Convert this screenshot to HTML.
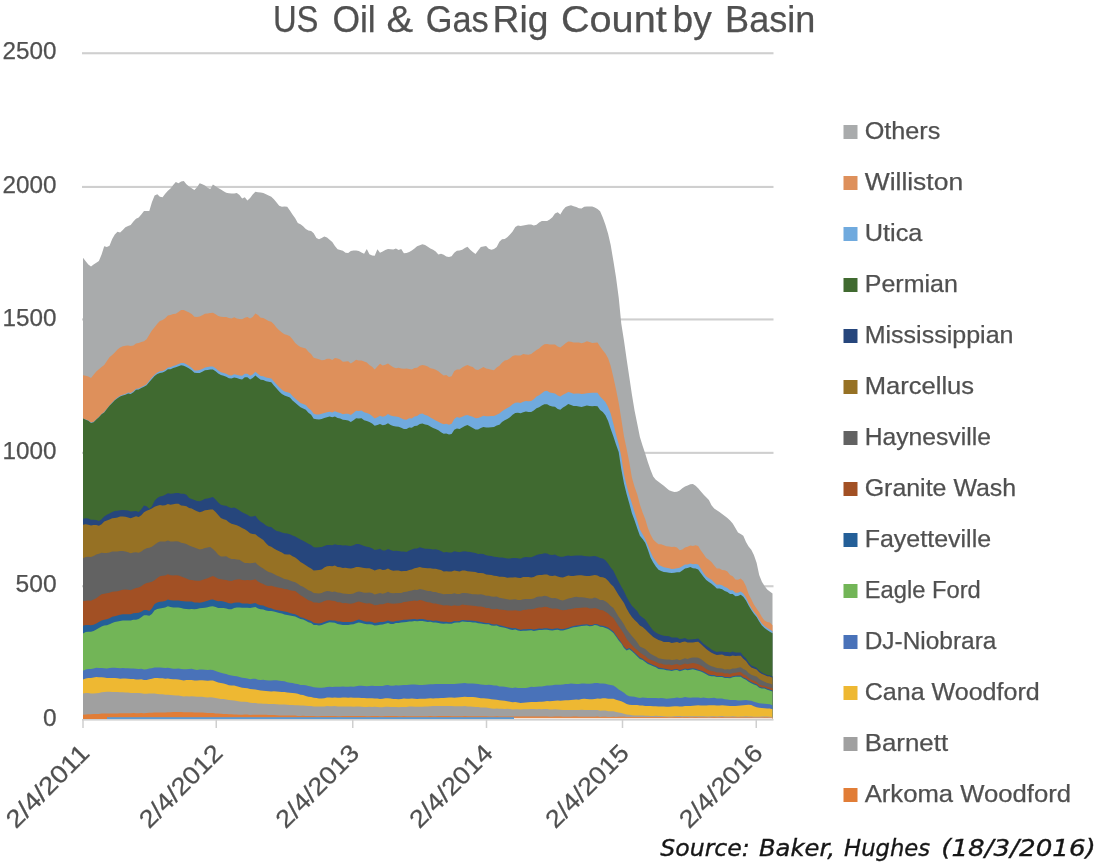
<!DOCTYPE html>
<html lang="en"><head><meta charset="utf-8"><title>US Oil &amp; Gas Rig Count by Basin</title>
<style>html,body{margin:0;padding:0;background:#fff}body{width:1096px;height:865px;overflow:hidden}svg{display:block}text{font-family:'Liberation Sans', Arial, sans-serif;fill:#505050;stroke:#505050;stroke-width:0.25px}.ax{font-size:24.8px}.src{font-family:"DejaVu Sans","Liberation Sans",sans-serif;font-style:italic;font-size:23.8px;fill:#161616;stroke:#161616;stroke-width:0.35px}</style></head><body>
<svg width="1096" height="865" viewBox="0 0 1096 865">
<rect width="1096" height="865" fill="#ffffff"/>
<text y="32" font-size="37"><tspan x="272.88" textLength="45.58" lengthAdjust="spacingAndGlyphs">US</tspan> <tspan x="332.40" textLength="43.34" lengthAdjust="spacingAndGlyphs">Oil</tspan> <tspan x="386.54" textLength="26.64" lengthAdjust="spacingAndGlyphs">&amp;</tspan> <tspan x="425.78" textLength="62.94" lengthAdjust="spacingAndGlyphs">Gas</tspan> <tspan x="492.50" textLength="55.86" lengthAdjust="spacingAndGlyphs">Rig</tspan> <tspan x="560.90" textLength="105.90" lengthAdjust="spacingAndGlyphs">Count</tspan> <tspan x="672.50" textLength="39.18" lengthAdjust="spacingAndGlyphs">by</tspan> <tspan x="725.12" textLength="90.24" lengthAdjust="spacingAndGlyphs">Basin</tspan></text>
<rect x="82" y="52.2" width="691.5" height="2.1" fill="#CFCFCF"/>
<rect x="82" y="185.9" width="691.5" height="2.1" fill="#CFCFCF"/>
<rect x="82" y="318.4" width="691.5" height="2.1" fill="#CFCFCF"/>
<rect x="82" y="451.8" width="691.5" height="2.1" fill="#CFCFCF"/>
<rect x="82" y="585.2" width="691.5" height="2.1" fill="#CFCFCF"/>
<text class="ax" x="56.6" y="59.3" text-anchor="end" textLength="54.0" lengthAdjust="spacingAndGlyphs">2500</text>
<text class="ax" x="56.6" y="193.0" text-anchor="end" textLength="54.0" lengthAdjust="spacingAndGlyphs">2000</text>
<text class="ax" x="56.6" y="325.5" text-anchor="end" textLength="54.0" lengthAdjust="spacingAndGlyphs">1500</text>
<text class="ax" x="56.6" y="458.8" text-anchor="end" textLength="54.0" lengthAdjust="spacingAndGlyphs">1000</text>
<text class="ax" x="56.6" y="592.3" text-anchor="end" textLength="41.0" lengthAdjust="spacingAndGlyphs">500</text>
<text class="ax" x="56.6" y="725.6" text-anchor="end" textLength="13.6" lengthAdjust="spacingAndGlyphs">0</text>
<g shape-rendering="geometricPrecision">
<path d="M83.0,719.5L83.0,257.8L85.7,261.2L88.3,264.6L91.0,266.5L93.6,264.6L96.3,262.8L98.9,260.9L101.6,254.6L104.2,246.3L106.9,247.1L109.5,245.8L112.2,239.1L114.8,234.4L117.5,231.8L120.1,232.4L122.8,230.1L125.4,227.2L128.1,226.1L130.7,225.0L133.4,221.5L136.0,218.7L138.7,217.6L141.3,214.5L144.0,210.9L146.6,210.9L149.3,210.9L151.9,202.2L154.6,195.6L157.3,194.2L159.9,196.7L162.6,197.3L165.2,193.8L167.9,190.8L170.5,188.6L173.2,184.9L175.8,182.0L178.5,183.2L181.1,181.5L183.8,181.1L186.4,184.3L189.1,186.5L191.7,188.2L194.4,189.9L197.0,187.2L199.7,183.2L202.3,184.3L205.0,185.4L207.6,187.7L210.3,189.1L212.9,184.6L215.6,186.3L218.2,188.0L220.9,189.6L223.6,191.2L226.2,192.8L228.9,193.3L231.5,193.6L234.2,193.4L236.8,193.1L239.5,195.0L242.1,198.5L244.8,197.3L247.4,200.4L250.1,198.0L252.7,194.4L255.4,191.8L258.0,192.2L260.7,192.6L263.3,192.9L266.0,194.2L268.6,195.5L271.3,196.8L273.9,199.2L276.6,202.4L279.2,205.7L281.9,206.8L284.5,206.5L287.2,206.7L289.9,210.6L292.5,214.5L295.2,218.3L297.8,223.1L300.5,224.2L303.1,226.2L305.8,228.9L308.4,230.5L311.1,230.9L313.7,233.2L316.4,237.9L319.0,239.3L321.7,238.0L324.3,236.6L327.0,237.6L329.6,239.8L332.3,241.9L334.9,246.1L337.6,249.2L340.2,250.0L342.9,250.7L345.5,252.7L348.2,253.1L350.8,251.0L353.5,250.6L356.1,250.6L358.8,251.1L361.5,252.4L364.1,253.8L366.8,249.0L369.4,254.2L372.1,255.5L374.7,255.8L377.4,249.2L380.0,252.7L382.7,251.4L385.3,250.0L388.0,249.1L390.6,249.3L393.3,249.6L395.9,248.5L398.6,249.9L401.2,249.0L403.9,253.3L406.5,253.1L409.2,251.9L411.8,250.6L414.5,248.4L417.1,246.3L419.8,245.2L422.4,244.3L425.1,244.9L427.8,246.8L430.4,248.5L433.1,249.8L435.7,251.4L438.4,254.5L441.0,253.7L443.7,254.7L446.3,256.5L449.0,257.0L451.6,256.2L454.3,252.8L456.9,250.8L459.6,250.4L462.2,249.7L464.9,248.0L467.5,246.7L470.2,249.8L472.8,252.1L475.5,254.0L478.1,250.6L480.8,247.0L483.4,246.4L486.1,246.1L488.7,248.7L491.4,249.8L494.0,248.9L496.7,246.9L499.4,241.7L502.0,239.3L504.7,239.1L507.3,237.2L510.0,234.5L512.6,231.4L515.3,227.1L517.9,225.5L520.6,225.9L523.2,225.5L525.9,224.9L528.5,224.4L531.2,224.6L533.8,225.6L536.5,224.7L539.1,222.6L541.8,220.9L544.4,221.0L547.1,221.1L549.7,219.5L552.4,217.3L555.0,213.5L557.7,212.2L560.3,214.6L563.0,210.1L565.6,206.9L568.3,205.9L571.0,205.3L573.6,206.2L576.3,207.0L578.9,208.3L581.6,208.6L584.2,206.8L586.9,206.6L589.5,206.6L592.2,206.6L594.8,207.4L597.5,209.0L600.1,211.2L602.8,217.5L605.4,224.7L608.1,233.8L610.7,245.1L613.4,261.1L616.0,277.2L618.7,297.5L621.3,323.8L624.0,340.7L626.6,359.1L629.3,376.9L631.9,394.6L634.6,410.7L637.3,423.9L639.9,437.1L642.6,445.8L645.2,453.4L647.9,462.3L650.5,469.7L653.2,476.4L655.8,479.7L658.5,481.7L661.1,483.7L663.8,485.8L666.4,488.1L669.1,490.3L671.7,491.3L674.4,491.9L677.0,491.7L679.7,490.4L682.3,488.3L685.0,486.5L687.6,485.4L690.3,484.3L692.9,484.0L695.6,485.8L698.2,488.2L700.9,491.5L703.5,494.5L706.2,497.2L708.9,499.9L711.5,505.3L714.2,508.5L716.8,510.3L719.5,512.0L722.1,513.9L724.8,515.9L727.4,517.9L730.1,520.6L732.7,523.6L735.4,528.0L738.0,532.4L740.7,534.0L743.3,535.7L746.0,541.9L748.6,546.4L751.3,549.8L753.9,555.1L756.6,562.7L759.2,575.0L761.9,581.7L764.5,586.1L767.2,589.4L769.8,591.5L772.5,593.5L772.5,719.5Z" fill="#A9ABAC"/>
<path d="M83.0,719.5L83.0,375.2L85.7,375.7L88.3,376.5L91.0,378.1L93.6,374.8L96.3,371.4L98.9,369.2L101.6,367.1L104.2,364.9L106.9,361.0L109.5,357.3L112.2,354.9L114.8,352.4L117.5,349.5L120.1,347.6L122.8,346.3L125.4,345.7L128.1,345.5L130.7,346.1L133.4,345.4L136.0,343.5L138.7,343.0L141.3,342.1L144.0,341.3L146.6,339.3L149.3,334.8L151.9,330.4L154.6,327.2L157.3,323.8L159.9,320.9L162.6,320.0L165.2,318.2L167.9,315.5L170.5,315.1L173.2,314.0L175.8,313.8L178.5,311.9L181.1,310.0L183.8,309.9L186.4,311.3L189.1,312.6L191.7,313.9L194.4,316.7L197.0,317.0L199.7,316.5L202.3,315.3L205.0,313.8L207.6,313.4L210.3,313.0L212.9,312.8L215.6,314.2L218.2,315.9L220.9,316.8L223.6,317.0L226.2,317.1L228.9,318.1L231.5,318.4L234.2,317.3L236.8,318.6L239.5,319.0L242.1,319.3L244.8,317.8L247.4,317.1L250.1,318.6L252.7,316.9L255.4,313.5L258.0,314.9L260.7,317.8L263.3,317.9L266.0,319.5L268.6,321.1L271.3,321.8L273.9,324.3L276.6,327.7L279.2,330.2L281.9,332.4L284.5,334.3L287.2,335.1L289.9,336.2L292.5,339.2L295.2,343.1L297.8,345.2L300.5,347.0L303.1,347.8L305.8,348.4L308.4,351.8L311.1,354.0L313.7,357.7L316.4,358.5L319.0,359.3L321.7,360.2L324.3,359.9L327.0,358.7L329.6,358.7L332.3,359.9L334.9,358.1L337.6,358.5L340.2,359.5L342.9,361.8L345.5,361.4L348.2,361.3L350.8,363.6L353.5,361.8L356.1,359.7L358.8,360.4L361.5,360.4L364.1,361.6L366.8,362.5L369.4,364.9L372.1,366.8L374.7,369.4L377.4,366.4L380.0,363.8L382.7,365.6L385.3,364.7L388.0,363.4L390.6,365.6L393.3,367.2L395.9,368.3L398.6,367.8L401.2,368.4L403.9,368.8L406.5,368.6L409.2,369.1L411.8,369.5L414.5,367.9L417.1,367.8L419.8,365.7L422.4,364.9L425.1,365.6L427.8,366.5L430.4,368.2L433.1,368.8L435.7,369.7L438.4,371.2L441.0,373.6L443.7,375.4L446.3,375.0L449.0,377.0L451.6,376.2L454.3,371.0L456.9,369.4L459.6,369.6L462.2,367.6L464.9,366.0L467.5,365.1L470.2,366.2L472.8,367.1L475.5,369.6L478.1,370.0L480.8,368.4L483.4,367.0L486.1,368.4L488.7,369.0L491.4,369.8L494.0,370.3L496.7,367.5L499.4,365.7L502.0,362.7L504.7,360.4L507.3,360.0L510.0,358.3L512.6,356.1L515.3,355.2L517.9,355.4L520.6,355.6L523.2,354.1L525.9,354.5L528.5,354.8L531.2,354.0L533.8,352.0L536.5,350.1L539.1,348.4L541.8,346.0L544.4,344.3L547.1,343.9L549.7,344.4L552.4,344.5L555.0,344.5L557.7,346.6L560.3,347.4L563.0,345.5L565.6,343.3L568.3,341.4L571.0,341.7L573.6,342.4L576.3,342.5L578.9,342.4L581.6,343.2L584.2,342.4L586.9,341.3L589.5,342.1L592.2,343.0L594.8,342.8L597.5,342.4L600.1,346.5L602.8,350.2L605.4,353.5L608.1,358.2L610.7,366.1L613.4,377.2L616.0,389.2L618.7,402.7L621.3,419.1L624.0,436.4L626.6,448.8L629.3,462.3L631.9,477.4L634.6,487.0L637.3,494.5L639.9,504.4L642.6,512.6L645.2,519.0L647.9,528.0L650.5,534.4L653.2,539.6L655.8,541.9L658.5,544.3L661.1,544.3L663.8,545.3L666.4,546.2L669.1,546.6L671.7,547.0L674.4,546.8L677.0,547.6L679.7,550.3L682.3,549.4L685.0,547.4L687.6,546.8L690.3,545.5L692.9,546.1L695.6,545.2L698.2,546.0L700.9,550.6L703.5,554.1L706.2,558.0L708.9,559.8L711.5,562.0L714.2,565.6L716.8,568.5L719.5,568.4L722.1,570.0L724.8,570.3L727.4,571.4L730.1,575.1L732.7,576.3L735.4,579.5L738.0,579.8L740.7,578.5L743.3,581.0L746.0,586.3L748.6,593.9L751.3,599.3L753.9,604.4L756.6,608.4L759.2,612.3L761.9,617.0L764.5,620.6L767.2,621.9L769.8,622.6L772.5,625.3L772.5,719.5Z" fill="#DE905B"/>
<path d="M83.0,719.5L83.0,418.6L85.7,419.6L88.3,420.6L91.0,422.6L93.6,421.8L96.3,419.3L98.9,416.9L101.6,414.0L104.2,411.9L106.9,408.8L109.5,405.6L112.2,402.4L114.8,399.8L117.5,397.4L120.1,395.7L122.8,394.8L125.4,394.0L128.1,392.6L130.7,392.9L133.4,391.3L136.0,388.8L138.7,388.5L141.3,387.1L144.0,385.8L146.6,384.2L149.3,380.6L151.9,377.6L154.6,374.7L157.3,372.4L159.9,371.2L162.6,370.9L165.2,369.7L167.9,367.5L170.5,367.3L173.2,366.0L175.8,365.3L178.5,363.9L181.1,362.9L183.8,363.1L186.4,364.2L189.1,365.9L191.7,367.8L194.4,370.6L197.0,370.5L199.7,370.1L202.3,368.9L205.0,367.4L207.6,367.0L210.3,366.4L212.9,366.5L215.6,368.3L218.2,370.4L220.9,372.3L223.6,373.0L226.2,373.7L228.9,375.2L231.5,375.5L234.2,374.3L236.8,374.7L239.5,375.5L242.1,375.8L244.8,373.7L247.4,373.7L250.1,375.8L252.7,374.4L255.4,371.8L258.0,373.9L260.7,376.0L263.3,376.3L266.0,377.4L268.6,378.0L271.3,378.5L273.9,381.5L276.6,384.5L279.2,387.3L281.9,389.7L284.5,391.4L287.2,392.2L289.9,393.1L292.5,395.9L295.2,398.6L297.8,400.8L300.5,403.0L303.1,404.0L305.8,405.1L308.4,408.3L311.1,410.2L313.7,413.8L316.4,414.4L319.0,414.6L321.7,413.8L324.3,413.0L327.0,412.2L329.6,411.7L332.3,412.4L334.9,411.3L337.6,412.2L340.2,412.9L342.9,414.3L345.5,413.8L348.2,413.8L350.8,415.1L353.5,413.0L356.1,410.8L358.8,410.9L361.5,410.4L364.1,412.3L366.8,413.0L369.4,414.1L372.1,416.0L374.7,418.5L377.4,417.2L380.0,415.7L382.7,416.8L385.3,416.0L388.0,414.1L390.6,415.6L393.3,416.2L395.9,416.6L398.6,416.9L401.2,418.2L403.9,419.6L406.5,419.7L409.2,418.3L411.8,418.5L414.5,416.6L417.1,415.9L419.8,414.1L422.4,413.4L425.1,414.9L427.8,415.8L430.4,417.4L433.1,419.1L435.7,420.4L438.4,421.7L441.0,423.2L443.7,424.3L446.3,423.7L449.0,424.7L451.6,423.8L454.3,418.9L456.9,417.1L459.6,417.8L462.2,416.8L464.9,415.4L467.5,414.9L470.2,416.0L472.8,416.8L475.5,418.2L478.1,418.1L480.8,416.9L483.4,415.8L486.1,416.2L488.7,416.2L491.4,416.1L494.0,416.0L496.7,414.7L499.4,413.6L502.0,411.3L504.7,409.4L507.3,408.1L510.0,406.6L512.6,404.3L515.3,402.8L517.9,402.6L520.6,403.0L523.2,401.8L525.9,400.9L528.5,401.2L531.2,401.0L533.8,399.3L536.5,396.6L539.1,395.2L541.8,393.2L544.4,391.3L547.1,390.7L549.7,392.4L552.4,393.1L555.0,393.4L557.7,395.6L560.3,396.5L563.0,394.7L565.6,393.4L568.3,391.9L571.0,392.7L573.6,393.7L576.3,393.4L578.9,393.6L581.6,394.1L584.2,393.8L586.9,393.2L589.5,393.1L592.2,392.8L594.8,392.7L597.5,392.7L600.1,396.5L602.8,399.3L605.4,402.0L608.1,406.9L610.7,413.4L613.4,423.8L616.0,434.5L618.7,444.0L621.3,456.5L624.0,474.2L626.6,485.5L629.3,495.2L631.9,503.2L634.6,512.3L637.3,520.7L639.9,529.5L642.6,534.2L645.2,538.9L647.9,545.3L650.5,551.8L653.2,557.4L655.8,561.1L658.5,564.7L661.1,566.1L663.8,567.3L666.4,567.7L669.1,568.3L671.7,569.1L674.4,568.8L677.0,568.3L679.7,567.7L682.3,566.2L685.0,564.6L687.6,564.4L690.3,563.5L692.9,564.2L695.6,563.9L698.2,564.6L700.9,568.8L703.5,572.9L706.2,576.6L708.9,578.3L711.5,579.8L714.2,582.4L716.8,584.8L719.5,584.6L722.1,585.3L724.8,586.9L727.4,588.0L730.1,590.2L732.7,590.2L735.4,592.7L738.0,592.8L740.7,591.5L743.3,593.6L746.0,597.5L748.6,603.2L751.3,608.0L753.9,611.8L756.6,615.0L759.2,619.4L761.9,623.4L764.5,626.1L767.2,628.1L769.8,629.5L772.5,631.2L772.5,719.5Z" fill="#70AADE"/>
<path d="M83.0,719.5L83.0,418.6L85.7,419.7L88.3,420.8L91.0,423.0L93.6,422.2L96.3,419.6L98.9,417.2L101.6,414.3L104.2,412.4L106.9,409.0L109.5,405.8L112.2,402.9L114.8,400.3L117.5,398.3L120.1,396.6L122.8,395.4L125.4,394.7L128.1,393.4L130.7,393.9L133.4,392.2L136.0,389.8L138.7,389.6L141.3,388.1L144.0,386.7L146.6,385.2L149.3,382.1L151.9,379.1L154.6,376.1L157.3,374.0L159.9,373.0L162.6,372.6L165.2,371.3L167.9,369.2L170.5,369.2L173.2,368.0L175.8,367.3L178.5,366.2L181.1,365.3L183.8,365.7L186.4,366.9L189.1,368.5L191.7,370.2L194.4,372.7L197.0,373.1L199.7,373.0L202.3,371.7L205.0,370.2L207.6,370.0L210.3,369.4L212.9,369.4L215.6,371.3L218.2,373.4L220.9,375.1L223.6,375.8L226.2,376.8L228.9,378.2L231.5,378.6L234.2,377.6L236.8,378.1L239.5,379.0L242.1,379.4L244.8,377.2L247.4,377.3L250.1,379.6L252.7,378.1L255.4,375.4L258.0,377.8L260.7,379.8L263.3,380.1L266.0,381.3L268.6,381.7L271.3,382.3L273.9,385.4L276.6,388.6L279.2,391.4L281.9,394.0L284.5,395.6L287.2,396.4L289.9,397.6L292.5,400.4L295.2,402.8L297.8,405.1L300.5,407.3L303.1,408.5L305.8,409.8L308.4,412.8L311.1,414.8L313.7,418.7L316.4,419.2L319.0,419.5L321.7,418.9L324.3,418.0L327.0,417.2L329.6,416.6L332.3,417.3L334.9,416.6L337.6,417.9L340.2,418.6L342.9,419.8L345.5,419.9L348.2,420.5L350.8,422.1L353.5,420.2L356.1,418.2L358.8,418.6L361.5,418.3L364.1,420.2L366.8,420.9L369.4,422.0L372.1,423.5L374.7,425.8L377.4,424.9L380.0,424.0L382.7,425.3L385.3,424.8L388.0,423.3L390.6,425.0L393.3,426.1L395.9,426.5L398.6,426.7L401.2,427.8L403.9,428.9L406.5,428.9L409.2,427.5L411.8,427.7L414.5,426.0L417.1,425.7L419.8,424.1L422.4,423.4L425.1,424.4L427.8,425.1L430.4,426.6L433.1,428.1L435.7,429.0L438.4,430.3L441.0,432.2L443.7,433.7L446.3,433.4L449.0,434.6L451.6,434.0L454.3,429.8L456.9,428.5L459.6,428.9L462.2,427.6L464.9,426.0L467.5,425.1L470.2,426.5L472.8,427.9L475.5,429.5L478.1,429.4L480.8,428.0L483.4,426.9L486.1,427.4L488.7,427.4L491.4,427.3L494.0,427.0L496.7,425.6L499.4,424.7L502.0,422.1L504.7,420.3L507.3,419.0L510.0,417.2L512.6,414.7L515.3,413.0L517.9,412.7L520.6,413.2L523.2,412.2L525.9,411.5L528.5,412.0L531.2,412.0L533.8,410.4L536.5,408.3L539.1,407.3L541.8,405.5L544.4,404.2L547.1,404.2L549.7,405.7L552.4,406.4L555.0,406.7L557.7,409.0L560.3,409.8L563.0,407.6L565.6,405.9L568.3,404.1L571.0,405.0L573.6,406.0L576.3,406.0L578.9,406.4L581.6,407.0L584.2,406.3L586.9,405.6L589.5,406.1L592.2,406.2L594.8,406.1L597.5,406.2L600.1,409.9L602.8,412.1L605.4,415.3L608.1,421.1L610.7,428.9L613.4,436.6L616.0,444.4L618.7,451.9L621.3,469.2L624.0,483.4L626.6,493.9L629.3,503.6L631.9,513.2L634.6,520.6L637.3,528.6L639.9,535.8L642.6,539.0L645.2,542.7L647.9,549.7L650.5,557.5L653.2,562.5L655.8,566.4L658.5,569.7L661.1,570.9L663.8,571.9L666.4,572.3L669.1,572.7L671.7,573.0L674.4,572.7L677.0,572.3L679.7,572.2L682.3,570.5L685.0,568.4L687.6,568.1L690.3,567.0L692.9,568.2L695.6,568.6L698.2,569.5L700.9,573.2L703.5,576.7L706.2,580.0L708.9,582.0L711.5,583.7L714.2,586.1L716.8,588.4L719.5,588.4L722.1,589.3L724.8,590.9L727.4,591.9L730.1,594.0L732.7,593.9L735.4,596.2L738.0,595.9L740.7,594.7L743.3,596.8L746.0,600.5L748.6,605.4L751.3,610.0L753.9,613.7L756.6,617.1L759.2,621.6L761.9,625.5L764.5,628.0L767.2,630.0L769.8,631.7L772.5,633.3L772.5,719.5Z" fill="#406A30"/>
<path d="M83.0,719.5L83.0,518.7L85.7,518.3L88.3,518.5L91.0,519.7L93.6,519.7L96.3,520.1L98.9,521.0L101.6,519.3L104.2,516.6L106.9,514.8L109.5,513.5L112.2,512.0L114.8,511.1L117.5,510.8L120.1,510.2L122.8,509.9L125.4,510.3L128.1,510.5L130.7,511.6L133.4,511.3L136.0,511.1L138.7,512.0L141.3,509.3L144.0,505.6L146.6,506.2L149.3,508.8L151.9,506.3L154.6,500.7L157.3,497.9L159.9,496.4L162.6,496.1L165.2,494.8L167.9,493.3L170.5,493.7L173.2,493.4L175.8,493.1L178.5,492.9L181.1,493.8L183.8,493.7L186.4,494.7L189.1,497.9L191.7,499.1L194.4,500.1L197.0,501.0L199.7,501.3L202.3,500.3L205.0,498.7L207.6,498.5L210.3,497.7L212.9,497.1L215.6,499.5L218.2,502.5L220.9,504.7L223.6,505.5L226.2,505.8L228.9,507.3L231.5,508.0L234.2,507.4L236.8,508.7L239.5,510.4L242.1,512.3L244.8,513.5L247.4,514.7L250.1,516.4L252.7,516.4L255.4,515.8L258.0,519.2L260.7,521.8L263.3,523.3L266.0,525.6L268.6,526.7L271.3,526.9L273.9,529.2L276.6,530.9L279.2,531.5L281.9,532.5L284.5,533.3L287.2,533.6L289.9,534.2L292.5,535.5L295.2,536.6L297.8,537.9L300.5,539.6L303.1,540.8L305.8,542.2L308.4,543.7L311.1,544.9L313.7,547.2L316.4,547.4L319.0,547.3L321.7,547.1L324.3,546.0L327.0,545.0L329.6,545.1L332.3,545.2L334.9,544.2L337.6,545.0L340.2,545.1L342.9,545.6L345.5,545.3L348.2,545.7L350.8,546.1L353.5,545.3L356.1,544.1L358.8,544.0L361.5,545.0L364.1,546.0L366.8,546.7L369.4,547.2L372.1,548.2L374.7,550.1L377.4,549.5L380.0,548.7L382.7,550.4L385.3,550.4L388.0,549.0L390.6,549.9L393.3,550.9L395.9,550.8L398.6,551.0L401.2,551.4L403.9,551.4L406.5,551.9L409.2,550.5L411.8,549.6L414.5,548.6L417.1,548.4L419.8,547.3L422.4,548.1L425.1,548.8L427.8,548.7L430.4,549.1L433.1,549.4L435.7,549.2L438.4,550.1L441.0,551.1L443.7,552.4L446.3,552.0L449.0,552.4L451.6,552.4L454.3,551.2L456.9,551.7L459.6,552.3L462.2,551.6L464.9,551.3L467.5,551.8L470.2,552.1L472.8,552.4L475.5,553.0L478.1,553.9L480.8,553.8L483.4,554.0L486.1,555.2L488.7,555.7L491.4,556.1L494.0,556.7L496.7,556.9L499.4,557.5L502.0,557.4L504.7,558.0L507.3,558.6L510.0,558.4L512.6,558.0L515.3,557.9L517.9,558.3L520.6,558.7L523.2,557.6L525.9,557.1L528.5,557.2L531.2,557.2L533.8,556.2L536.5,554.9L539.1,554.2L541.8,554.0L544.4,553.2L547.1,553.5L549.7,554.7L552.4,554.9L555.0,554.5L557.7,555.9L560.3,556.8L563.0,556.8L565.6,556.1L568.3,555.5L571.0,556.1L573.6,555.8L576.3,555.6L578.9,555.4L581.6,555.6L584.2,556.1L586.9,556.3L589.5,556.5L592.2,556.3L594.8,556.0L597.5,556.7L600.1,558.0L602.8,558.4L605.4,560.2L608.1,563.5L610.7,567.6L613.4,570.8L616.0,576.2L618.7,581.8L621.3,586.6L624.0,591.2L626.6,596.9L629.3,601.8L631.9,605.7L634.6,608.4L637.3,611.3L639.9,615.4L642.6,617.6L645.2,619.5L647.9,623.3L650.5,627.1L653.2,630.5L655.8,632.4L658.5,634.0L661.1,634.9L663.8,635.8L666.4,636.0L669.1,636.3L671.7,637.5L674.4,637.4L677.0,637.4L679.7,639.0L682.3,638.7L685.0,638.1L687.6,639.4L690.3,639.5L692.9,639.3L695.6,638.9L698.2,638.4L700.9,640.9L703.5,643.8L706.2,645.8L708.9,647.6L711.5,649.6L714.2,650.9L716.8,652.0L719.5,651.5L722.1,651.4L724.8,652.0L727.4,651.9L730.1,652.4L732.7,651.5L735.4,652.4L738.0,652.4L740.7,652.5L743.3,655.9L746.0,658.3L748.6,662.5L751.3,665.4L753.9,666.5L756.6,667.8L759.2,670.6L761.9,672.6L764.5,673.8L767.2,675.1L769.8,675.3L772.5,676.5L772.5,719.5Z" fill="#26467C"/>
<path d="M83.0,719.5L83.0,524.8L85.7,524.3L88.3,524.7L91.0,525.4L93.6,524.9L96.3,525.0L98.9,525.7L101.6,524.2L104.2,521.5L106.9,520.4L109.5,519.6L112.2,518.3L114.8,518.1L117.5,517.5L120.1,516.5L122.8,516.4L125.4,516.7L128.1,517.4L130.7,518.3L133.4,517.2L136.0,516.3L138.7,517.1L141.3,515.2L144.0,512.3L146.6,510.8L149.3,509.7L151.9,508.6L154.6,506.8L157.3,505.7L159.9,505.0L162.6,505.6L165.2,505.3L167.9,504.1L170.5,504.7L173.2,504.2L175.8,503.8L178.5,503.8L181.1,505.4L183.8,505.8L186.4,506.2L189.1,507.9L191.7,508.6L194.4,509.9L197.0,511.2L199.7,512.2L202.3,511.5L205.0,510.2L207.6,510.0L210.3,509.4L212.9,509.4L215.6,512.0L218.2,515.0L220.9,517.9L223.6,519.3L226.2,519.9L228.9,522.2L231.5,523.8L234.2,524.4L236.8,525.3L239.5,526.4L242.1,528.1L244.8,529.3L247.4,531.0L250.1,533.2L252.7,534.1L255.4,534.2L258.0,536.6L260.7,538.3L263.3,540.1L266.0,543.2L268.6,545.8L271.3,546.8L273.9,548.5L276.6,550.0L279.2,551.2L281.9,552.6L284.5,554.2L287.2,554.4L289.9,554.6L292.5,556.3L295.2,557.5L297.8,559.6L300.5,561.9L303.1,563.4L305.8,565.2L308.4,566.9L311.1,568.5L313.7,570.5L316.4,570.2L319.0,570.1L321.7,569.4L324.3,567.6L327.0,566.3L329.6,566.0L332.3,566.3L334.9,565.6L337.6,566.9L340.2,567.3L342.9,567.9L345.5,567.8L348.2,568.2L350.8,568.5L353.5,568.0L356.1,566.9L358.8,566.9L361.5,567.5L364.1,567.9L366.8,568.2L369.4,568.3L372.1,569.2L374.7,570.5L377.4,569.6L380.0,568.9L382.7,570.0L385.3,569.8L388.0,568.6L390.6,569.9L393.3,570.7L395.9,570.5L398.6,570.6L401.2,571.2L403.9,570.9L406.5,571.0L409.2,570.1L411.8,569.4L414.5,568.3L417.1,567.8L419.8,567.0L422.4,567.7L425.1,568.1L427.8,568.2L430.4,568.3L433.1,568.8L435.7,568.8L438.4,569.5L441.0,570.1L443.7,571.4L446.3,571.2L449.0,571.5L451.6,571.5L454.3,570.6L456.9,571.1L459.6,571.5L462.2,570.4L464.9,570.6L467.5,571.3L470.2,571.6L472.8,571.8L475.5,572.1L478.1,572.9L480.8,572.9L483.4,573.2L486.1,574.5L488.7,574.8L491.4,575.1L494.0,575.8L496.7,575.9L499.4,576.7L502.0,576.8L504.7,577.1L507.3,577.7L510.0,577.6L512.6,577.4L515.3,577.2L517.9,577.8L520.6,578.1L523.2,577.1L525.9,576.9L528.5,577.1L531.2,577.4L533.8,576.9L536.5,575.6L539.1,575.0L541.8,575.0L544.4,574.4L547.1,574.5L549.7,575.8L552.4,576.1L555.0,575.6L557.7,576.4L560.3,577.3L563.0,577.4L565.6,576.5L568.3,575.6L571.0,575.9L573.6,575.9L576.3,575.6L578.9,575.2L581.6,575.3L584.2,575.7L586.9,576.0L589.5,576.0L592.2,575.6L594.8,575.1L597.5,575.6L600.1,577.0L602.8,577.2L605.4,578.3L608.1,580.7L610.7,584.0L613.4,586.5L616.0,590.8L618.7,595.3L621.3,599.0L624.0,603.1L626.6,608.6L629.3,613.3L631.9,617.1L634.6,620.0L637.3,622.5L639.9,625.4L642.6,627.1L645.2,629.2L647.9,632.1L650.5,634.5L653.2,637.0L655.8,638.4L658.5,639.9L661.1,640.8L663.8,641.9L666.4,641.9L669.1,642.0L671.7,643.0L674.4,642.6L677.0,642.0L679.7,643.0L682.3,642.0L685.0,641.4L687.6,642.6L690.3,642.6L692.9,642.4L695.6,641.9L698.2,641.7L700.9,644.0L703.5,646.6L706.2,649.0L708.9,650.9L711.5,652.7L714.2,654.0L716.8,655.0L719.5,654.7L722.1,654.6L724.8,655.7L727.4,656.0L730.1,656.3L732.7,655.6L735.4,656.0L738.0,655.7L740.7,655.8L743.3,658.8L746.0,661.0L748.6,664.8L751.3,667.5L753.9,668.4L756.6,669.5L759.2,672.3L761.9,673.9L764.5,675.1L767.2,676.3L769.8,676.4L772.5,677.8L772.5,719.5Z" fill="#967124"/>
<path d="M83.0,719.5L83.0,558.2L85.7,557.1L88.3,556.8L91.0,557.1L93.6,555.9L96.3,554.6L98.9,553.8L101.6,552.7L104.2,553.0L106.9,552.9L109.5,552.4L112.2,551.6L114.8,551.5L117.5,551.5L120.1,550.9L122.8,550.9L125.4,551.5L128.1,552.3L130.7,553.3L133.4,552.6L136.0,552.2L138.7,552.8L141.3,551.6L144.0,549.4L146.6,548.3L149.3,547.7L151.9,546.7L154.6,544.7L157.3,542.8L159.9,541.6L162.6,541.4L165.2,541.5L167.9,540.5L170.5,541.5L173.2,541.4L175.8,541.2L178.5,541.5L181.1,542.7L183.8,543.3L186.4,543.9L189.1,545.4L191.7,546.5L194.4,547.5L197.0,548.6L199.7,549.6L202.3,549.0L205.0,548.0L207.6,547.6L210.3,547.1L212.9,549.1L215.6,551.5L218.2,554.7L220.9,556.6L223.6,556.4L226.2,556.3L228.9,557.9L231.5,559.0L234.2,559.0L236.8,559.5L239.5,559.8L242.1,561.4L244.8,562.9L247.4,563.1L250.1,563.3L252.7,562.9L255.4,562.4L258.0,565.0L260.7,566.9L263.3,568.4L266.0,570.6L268.6,572.1L271.3,572.7L273.9,574.1L276.6,575.5L279.2,576.5L281.9,577.7L284.5,579.0L287.2,579.5L289.9,580.5L292.5,581.6L295.2,582.3L297.8,583.8L300.5,585.8L303.1,586.8L305.8,588.4L308.4,590.2L311.1,591.2L313.7,593.1L316.4,593.3L319.0,593.6L321.7,593.0L324.3,591.7L327.0,591.0L329.6,591.3L332.3,592.0L334.9,591.5L337.6,592.5L340.2,592.8L342.9,593.5L345.5,593.7L348.2,593.9L350.8,594.0L353.5,593.5L356.1,592.3L358.8,591.5L361.5,592.0L364.1,592.7L366.8,592.8L369.4,592.4L372.1,593.1L374.7,594.5L377.4,593.8L380.0,593.1L382.7,593.7L385.3,592.9L388.0,591.8L390.6,593.0L393.3,593.2L395.9,593.0L398.6,593.1L401.2,593.0L403.9,592.0L406.5,591.8L409.2,591.1L411.8,590.6L414.5,589.8L417.1,590.0L419.8,589.1L422.4,589.6L425.1,590.3L427.8,590.9L430.4,591.0L433.1,592.0L435.7,592.0L438.4,592.9L441.0,593.5L443.7,594.2L446.3,594.0L449.0,594.1L451.6,594.1L454.3,593.3L456.9,593.9L459.6,594.1L462.2,592.9L464.9,592.9L467.5,593.3L470.2,593.7L472.8,594.2L475.5,594.2L478.1,594.4L480.8,594.3L483.4,594.7L486.1,595.8L488.7,595.7L491.4,596.6L494.0,596.8L496.7,596.6L499.4,597.8L502.0,598.3L504.7,598.7L507.3,599.3L510.0,599.7L512.6,599.6L515.3,599.3L517.9,599.9L520.6,600.1L523.2,599.3L525.9,599.0L528.5,598.9L531.2,599.0L533.8,598.4L536.5,597.1L539.1,596.6L541.8,596.4L544.4,595.8L547.1,596.2L549.7,597.4L552.4,598.2L555.0,598.1L557.7,598.7L560.3,600.0L563.0,600.4L565.6,599.5L568.3,598.4L571.0,598.1L573.6,597.2L576.3,596.8L578.9,597.2L581.6,597.2L584.2,597.5L586.9,598.0L589.5,598.6L592.2,598.4L594.8,597.5L597.5,598.4L600.1,599.9L602.8,600.1L605.4,601.2L608.1,603.3L610.7,605.9L613.4,607.9L616.0,612.3L618.7,616.8L621.3,620.3L624.0,624.4L626.6,629.2L629.3,632.8L631.9,636.0L634.6,639.1L637.3,642.5L639.9,646.4L642.6,647.8L645.2,649.1L647.9,651.6L650.5,653.7L653.2,655.2L655.8,656.6L658.5,658.2L661.1,658.7L663.8,659.3L666.4,659.6L669.1,659.5L671.7,660.0L674.4,659.8L677.0,659.3L679.7,660.3L682.3,659.3L685.0,658.2L687.6,659.0L690.3,658.1L692.9,657.4L695.6,657.5L698.2,657.7L700.9,659.1L703.5,660.9L706.2,663.2L708.9,664.9L711.5,666.2L714.2,666.9L716.8,668.1L719.5,668.3L722.1,668.4L724.8,669.5L727.4,669.2L730.1,669.5L732.7,668.5L735.4,668.4L738.0,667.7L740.7,667.3L743.3,669.1L746.0,670.3L748.6,673.1L751.3,674.8L753.9,675.7L756.6,676.4L759.2,678.9L761.9,680.5L764.5,681.7L767.2,683.0L769.8,683.6L772.5,684.7L772.5,719.5Z" fill="#626262"/>
<path d="M83.0,719.5L83.0,601.3L85.7,600.7L88.3,600.5L91.0,600.8L93.6,599.6L96.3,598.3L98.9,596.3L101.6,594.2L104.2,593.7L106.9,593.3L109.5,592.8L112.2,591.8L114.8,591.5L117.5,591.2L120.1,590.6L122.8,589.8L125.4,589.6L128.1,589.8L130.7,590.3L133.4,588.9L136.0,588.1L138.7,587.6L141.3,586.3L144.0,584.3L146.6,583.0L149.3,582.4L151.9,581.8L154.6,580.3L157.3,578.1L159.9,576.3L162.6,575.7L165.2,575.6L167.9,574.3L170.5,575.2L173.2,575.4L175.8,575.2L178.5,575.4L181.1,576.5L183.8,577.5L186.4,578.4L189.1,579.8L191.7,580.1L194.4,580.6L197.0,580.7L199.7,580.7L202.3,580.0L205.0,579.1L207.6,578.2L210.3,576.9L212.9,575.9L215.6,577.3L218.2,578.7L220.9,579.3L223.6,579.8L226.2,580.0L228.9,580.8L231.5,581.0L234.2,579.9L236.8,579.6L239.5,579.2L242.1,580.1L244.8,580.2L247.4,580.0L250.1,580.3L252.7,579.9L255.4,579.3L258.0,581.4L260.7,583.0L263.3,583.9L266.0,585.5L268.6,585.9L271.3,585.8L273.9,586.5L276.6,587.3L279.2,587.7L281.9,588.3L284.5,589.0L287.2,589.3L289.9,590.2L292.5,590.7L295.2,590.9L297.8,593.0L300.5,595.3L303.1,596.7L305.8,598.4L308.4,600.2L311.1,601.1L313.7,602.4L316.4,602.6L319.0,603.1L321.7,602.3L324.3,601.0L327.0,600.3L329.6,600.2L332.3,600.8L334.9,601.1L337.6,602.2L340.2,602.3L342.9,603.2L345.5,603.1L348.2,603.6L350.8,603.7L353.5,603.3L356.1,602.3L358.8,601.5L361.5,602.3L364.1,603.1L366.8,603.5L369.4,603.3L372.1,603.9L374.7,605.3L377.4,605.0L380.0,604.3L382.7,604.2L385.3,603.5L388.0,602.7L390.6,603.6L393.3,603.7L395.9,603.5L398.6,603.2L401.2,602.9L403.9,602.1L406.5,601.7L409.2,601.2L411.8,601.1L414.5,600.5L417.1,601.0L419.8,600.1L422.4,600.5L425.1,601.5L427.8,602.2L430.4,602.4L433.1,603.4L435.7,603.4L438.4,604.2L441.0,604.8L443.7,605.5L446.3,605.2L449.0,605.5L451.6,605.9L454.3,605.3L456.9,605.7L459.6,605.8L462.2,604.4L464.9,604.9L467.5,605.3L470.2,605.4L472.8,605.7L475.5,605.9L478.1,606.4L480.8,606.6L483.4,607.0L486.1,608.1L488.7,608.1L491.4,608.9L494.0,609.2L496.7,608.7L499.4,609.4L502.0,609.7L504.7,610.1L507.3,610.4L510.0,610.5L512.6,610.6L515.3,610.3L517.9,610.8L520.6,611.0L523.2,610.0L525.9,609.7L528.5,609.3L531.2,609.3L533.8,608.9L536.5,607.9L539.1,607.6L541.8,607.4L544.4,606.7L547.1,607.1L549.7,608.1L552.4,608.8L555.0,608.4L557.7,608.7L560.3,609.7L563.0,610.2L565.6,609.9L568.3,609.3L571.0,609.0L573.6,608.4L576.3,608.1L578.9,608.0L581.6,607.8L584.2,607.5L586.9,607.6L589.5,608.5L592.2,608.5L594.8,607.9L597.5,608.7L600.1,610.1L602.8,610.3L605.4,611.7L608.1,613.4L610.7,616.0L613.4,618.1L616.0,622.1L618.7,626.3L621.3,629.7L624.0,633.9L626.6,638.9L629.3,642.2L631.9,645.0L634.6,648.0L637.3,649.9L639.9,652.6L642.6,654.2L645.2,656.1L647.9,658.4L650.5,659.8L653.2,660.8L655.8,661.7L658.5,663.3L661.1,663.6L663.8,664.5L666.4,664.8L669.1,664.6L671.7,665.2L674.4,664.5L677.0,664.1L679.7,665.2L682.3,664.5L685.0,663.6L687.6,664.2L690.3,663.5L692.9,663.0L695.6,663.4L698.2,664.3L700.9,665.5L703.5,666.9L706.2,669.0L708.9,670.3L711.5,671.0L714.2,671.6L716.8,672.6L719.5,672.6L722.1,672.5L724.8,673.4L727.4,673.3L730.1,673.9L732.7,673.0L735.4,672.7L738.0,672.2L740.7,672.0L743.3,674.2L746.0,675.4L748.6,678.0L751.3,679.7L753.9,680.8L756.6,681.9L759.2,684.5L761.9,685.6L764.5,685.8L767.2,686.8L769.8,687.6L772.5,688.2L772.5,719.5Z" fill="#A25024"/>
<path d="M83.0,719.5L83.0,625.8L85.7,625.0L88.3,625.0L91.0,625.3L93.6,624.8L96.3,623.5L98.9,622.0L101.6,620.5L104.2,619.7L106.9,619.2L109.5,618.3L112.2,616.7L114.8,616.2L117.5,615.5L120.1,614.8L122.8,614.3L125.4,614.3L128.1,614.3L130.7,614.2L133.4,613.2L136.0,613.0L138.7,612.8L141.3,611.7L144.0,610.0L146.6,610.1L149.3,610.9L151.9,608.5L154.6,604.0L157.3,602.6L159.9,601.8L162.6,601.5L165.2,600.9L167.9,599.6L170.5,600.3L173.2,600.6L175.8,600.5L178.5,600.5L181.1,600.9L183.8,601.2L186.4,601.5L189.1,601.6L191.7,601.6L194.4,602.4L197.0,602.6L199.7,602.8L202.3,602.2L205.0,601.5L207.6,600.7L210.3,599.8L212.9,599.4L215.6,600.4L218.2,601.2L220.9,601.1L223.6,601.4L226.2,602.2L228.9,603.2L231.5,603.6L234.2,602.7L236.8,602.5L239.5,602.6L242.1,603.4L244.8,603.4L247.4,603.5L250.1,603.9L252.7,603.4L255.4,602.9L258.0,604.6L260.7,605.2L263.3,605.6L266.0,606.8L268.6,607.7L271.3,608.3L273.9,609.4L276.6,609.9L279.2,610.4L281.9,610.9L284.5,611.4L287.2,612.1L289.9,613.0L292.5,613.7L295.2,614.2L297.8,615.6L300.5,617.2L303.1,617.7L305.8,618.9L308.4,620.1L311.1,621.1L313.7,622.8L316.4,623.2L319.0,623.6L321.7,623.0L324.3,621.9L327.0,620.9L329.6,620.2L332.3,620.5L334.9,620.5L337.6,621.4L340.2,621.6L342.9,622.1L345.5,621.9L348.2,622.0L350.8,621.9L353.5,621.6L356.1,620.5L358.8,619.6L361.5,620.3L364.1,621.2L366.8,621.7L369.4,621.6L372.1,622.0L374.7,622.9L377.4,622.5L380.0,622.1L382.7,622.0L385.3,621.4L388.0,620.6L390.6,621.5L393.3,621.7L395.9,621.0L398.6,620.7L401.2,620.3L403.9,619.8L406.5,619.7L409.2,619.4L411.8,619.3L414.5,619.0L417.1,619.6L419.8,618.9L422.4,619.0L425.1,619.5L427.8,620.3L430.4,620.2L433.1,620.9L435.7,620.5L438.4,621.1L441.0,621.4L443.7,621.7L446.3,621.8L449.0,622.3L451.6,622.1L454.3,621.1L456.9,621.2L459.6,621.1L462.2,620.0L464.9,620.2L467.5,620.4L470.2,620.4L472.8,620.8L475.5,620.9L478.1,621.6L480.8,621.9L483.4,622.5L486.1,622.9L488.7,622.9L491.4,624.1L494.0,624.5L496.7,624.3L499.4,625.3L502.0,625.7L504.7,626.4L507.3,627.2L510.0,627.8L512.6,628.3L515.3,628.1L517.9,629.0L520.6,629.7L523.2,629.3L525.9,629.2L528.5,628.9L531.2,629.0L533.8,629.6L536.5,628.9L539.1,628.6L541.8,628.7L544.4,628.3L547.1,628.2L549.7,628.7L552.4,629.0L555.0,628.4L557.7,628.3L560.3,628.9L563.0,629.1L565.6,628.4L568.3,627.7L571.0,626.7L573.6,625.9L576.3,625.4L578.9,625.2L581.6,624.7L584.2,624.4L586.9,624.2L589.5,624.9L592.2,624.9L594.8,623.9L597.5,624.2L600.1,625.4L602.8,625.7L605.4,626.6L608.1,627.6L610.7,629.6L613.4,631.6L616.0,635.2L618.7,639.1L621.3,642.4L624.0,646.7L626.6,649.2L629.3,648.0L631.9,649.9L634.6,652.4L637.3,655.0L639.9,657.6L642.6,658.8L645.2,660.7L647.9,662.6L650.5,663.8L653.2,665.0L655.8,666.0L658.5,667.5L661.1,667.9L663.8,668.5L666.4,669.0L669.1,669.4L671.7,669.9L674.4,669.2L677.0,668.9L679.7,670.0L682.3,669.4L685.0,668.5L687.6,669.1L690.3,668.4L692.9,668.2L695.6,668.8L698.2,669.7L700.9,670.5L703.5,671.4L706.2,673.0L708.9,674.5L711.5,675.1L714.2,675.1L716.8,676.2L719.5,676.0L722.1,676.0L724.8,676.9L727.4,676.9L730.1,677.3L732.7,676.2L735.4,675.7L738.0,675.5L740.7,675.6L743.3,677.5L746.0,678.4L748.6,680.5L751.3,682.1L753.9,683.2L756.6,684.3L759.2,686.7L761.9,687.6L764.5,687.5L767.2,688.8L769.8,689.6L772.5,690.6L772.5,719.5Z" fill="#245F98"/>
<path d="M83.0,719.5L83.0,633.4L85.7,632.1L88.3,631.8L91.0,631.8L93.6,631.0L96.3,629.5L98.9,627.9L101.6,626.5L104.2,625.6L106.9,625.2L109.5,624.3L112.2,622.9L114.8,622.1L117.5,621.5L120.1,620.9L122.8,620.5L125.4,620.4L128.1,620.5L130.7,620.6L133.4,619.7L136.0,619.7L138.7,619.1L141.3,617.3L144.0,615.3L146.6,615.2L149.3,615.8L151.9,613.9L154.6,610.2L157.3,609.1L159.9,608.4L162.6,607.9L165.2,607.4L167.9,606.3L170.5,607.1L173.2,607.6L175.8,607.4L178.5,607.5L181.1,608.1L183.8,608.7L186.4,609.1L189.1,609.3L191.7,609.1L194.4,609.3L197.0,609.0L199.7,608.3L202.3,608.0L205.0,607.8L207.6,607.2L210.3,606.5L212.9,606.3L215.6,607.1L218.2,608.0L220.9,607.9L223.6,608.1L226.2,608.6L228.9,609.3L231.5,609.2L234.2,607.9L236.8,607.6L239.5,607.4L242.1,607.8L244.8,607.7L247.4,607.7L250.1,608.0L252.7,607.4L255.4,607.0L258.0,608.6L260.7,609.3L263.3,609.6L266.0,610.6L268.6,611.0L271.3,611.1L273.9,611.6L276.6,612.2L279.2,612.9L281.9,613.6L284.5,614.5L287.2,615.0L289.9,615.5L292.5,616.0L295.2,616.5L297.8,617.7L300.5,619.1L303.1,619.6L305.8,620.8L308.4,622.2L311.1,623.1L313.7,624.9L316.4,625.0L319.0,625.5L321.7,625.0L324.3,624.0L327.0,623.1L329.6,622.3L332.3,622.6L334.9,622.8L337.6,623.9L340.2,624.5L342.9,625.0L345.5,624.9L348.2,624.9L350.8,624.6L353.5,624.3L356.1,623.2L358.8,622.4L361.5,622.9L364.1,623.7L366.8,624.3L369.4,624.3L372.1,624.6L374.7,625.6L377.4,625.2L380.0,624.7L382.7,624.5L385.3,623.7L388.0,622.9L390.6,623.9L393.3,624.0L395.9,623.1L398.6,622.9L401.2,622.5L403.9,622.2L406.5,622.1L409.2,621.6L411.8,621.4L414.5,620.9L417.1,621.3L419.8,620.9L422.4,621.1L425.1,621.6L427.8,622.1L430.4,621.8L433.1,622.6L435.7,622.4L438.4,623.0L441.0,623.4L443.7,623.7L446.3,623.5L449.0,623.8L451.6,623.8L454.3,622.7L456.9,622.6L459.6,622.6L462.2,621.6L464.9,621.7L467.5,621.9L470.2,622.0L472.8,622.4L475.5,622.5L478.1,623.2L480.8,623.5L483.4,624.0L486.1,624.3L488.7,624.3L491.4,625.4L494.0,625.8L496.7,625.6L499.4,626.7L502.0,627.2L504.7,627.7L507.3,628.6L510.0,629.4L512.6,629.9L515.3,629.6L517.9,630.4L520.6,631.0L523.2,630.8L525.9,630.8L528.5,630.5L531.2,630.3L533.8,630.9L536.5,630.4L539.1,630.0L541.8,630.0L544.4,629.7L547.1,629.8L549.7,630.2L552.4,630.5L555.0,630.0L557.7,629.7L560.3,630.4L563.0,630.4L565.6,629.8L568.3,629.1L571.0,628.0L573.6,627.2L576.3,626.9L578.9,626.6L581.6,626.0L584.2,625.7L586.9,625.6L589.5,626.3L592.2,626.1L594.8,625.0L597.5,625.4L600.1,626.8L602.8,627.0L605.4,628.1L608.1,629.0L610.7,630.8L613.4,632.9L616.0,636.6L618.7,640.6L621.3,643.6L624.0,648.0L626.6,650.4L629.3,649.3L631.9,651.2L634.6,653.7L637.3,656.5L639.9,659.0L642.6,660.0L645.2,662.1L647.9,664.0L650.5,665.1L653.2,666.3L655.8,667.3L658.5,668.9L661.1,669.2L663.8,669.6L666.4,670.2L669.1,670.6L671.7,670.9L674.4,670.3L677.0,670.1L679.7,671.3L682.3,670.6L685.0,669.6L687.6,670.2L690.3,669.7L692.9,669.3L695.6,669.9L698.2,670.8L700.9,671.6L703.5,672.7L706.2,674.3L708.9,675.7L711.5,676.3L714.2,676.2L716.8,677.1L719.5,677.0L722.1,677.1L724.8,678.1L727.4,678.0L730.1,678.3L732.7,677.3L735.4,676.8L738.0,676.7L740.7,676.7L743.3,678.4L746.0,679.7L748.6,681.7L751.3,683.2L753.9,684.5L756.6,685.4L759.2,687.7L761.9,688.6L764.5,688.6L767.2,689.7L769.8,690.5L772.5,691.6L772.5,719.5Z" fill="#72B557"/>
<path d="M83.0,719.5L83.0,670.8L85.7,669.6L88.3,669.0L91.0,669.1L93.6,668.5L96.3,667.8L98.9,668.0L101.6,667.9L104.2,668.2L106.9,668.4L109.5,668.0L112.2,667.8L114.8,667.8L117.5,667.9L120.1,668.2L122.8,668.1L125.4,668.2L128.1,668.3L130.7,668.5L133.4,668.4L136.0,668.8L138.7,668.9L141.3,668.8L144.0,669.5L146.6,669.2L149.3,668.6L151.9,668.3L154.6,667.6L157.3,667.5L159.9,667.6L162.6,667.7L165.2,668.1L167.9,667.7L170.5,668.2L173.2,668.7L175.8,668.7L178.5,668.5L181.1,669.0L183.8,669.3L186.4,669.2L189.1,669.0L191.7,668.7L194.4,669.5L197.0,669.9L199.7,669.6L202.3,669.4L205.0,669.7L207.6,669.9L210.3,669.8L212.9,670.0L215.6,671.0L218.2,672.1L220.9,672.7L223.6,673.5L226.2,674.1L228.9,675.1L231.5,675.6L234.2,675.9L236.8,676.3L239.5,677.1L242.1,677.7L244.8,677.9L247.4,678.4L250.1,679.2L252.7,678.8L255.4,678.8L258.0,679.8L260.7,679.9L263.3,679.8L266.0,680.3L268.6,680.4L271.3,680.4L273.9,680.3L276.6,680.2L279.2,680.7L281.9,681.0L284.5,681.3L287.2,682.2L289.9,682.8L292.5,683.1L295.2,683.7L297.8,684.1L300.5,684.9L303.1,684.9L305.8,685.3L308.4,685.9L311.1,686.4L313.7,687.3L316.4,687.4L319.0,687.7L321.7,687.8L324.3,687.4L327.0,686.9L329.6,686.8L332.3,687.1L334.9,686.8L337.6,686.8L340.2,686.8L342.9,686.6L345.5,686.7L348.2,686.7L350.8,686.4L353.5,686.7L356.1,686.3L358.8,685.8L361.5,685.8L364.1,686.1L366.8,686.3L369.4,686.0L372.1,685.8L374.7,686.0L377.4,686.0L380.0,686.1L382.7,686.1L385.3,685.3L388.0,684.9L390.6,685.7L393.3,685.8L395.9,685.3L398.6,685.5L401.2,685.2L403.9,684.9L406.5,685.0L409.2,684.8L411.8,684.6L414.5,684.5L417.1,684.8L419.8,685.0L422.4,685.0L425.1,684.8L427.8,684.6L430.4,684.3L433.1,684.3L435.7,684.0L438.4,684.0L441.0,683.9L443.7,684.1L446.3,684.0L449.0,683.9L451.6,684.0L454.3,684.0L456.9,683.7L459.6,683.4L462.2,683.2L464.9,683.1L467.5,683.5L470.2,683.6L472.8,683.5L475.5,683.7L478.1,684.1L480.8,684.5L483.4,684.7L486.1,684.9L488.7,684.8L491.4,685.1L494.0,685.4L496.7,685.6L499.4,686.4L502.0,686.6L504.7,686.8L507.3,687.2L510.0,687.7L512.6,688.0L515.3,687.6L517.9,688.0L520.6,688.1L523.2,688.0L525.9,688.0L528.5,687.4L531.2,686.8L533.8,687.1L536.5,686.8L539.1,686.4L541.8,686.4L544.4,686.1L547.1,685.6L549.7,685.5L552.4,685.3L555.0,684.8L557.7,684.7L560.3,684.8L563.0,684.5L565.6,684.1L568.3,684.0L571.0,683.6L573.6,683.7L576.3,683.9L578.9,684.1L581.6,683.6L584.2,683.6L586.9,683.7L589.5,683.7L592.2,683.5L594.8,683.0L597.5,682.9L600.1,683.6L602.8,683.4L605.4,683.8L608.1,684.4L610.7,684.9L613.4,685.4L616.0,687.2L618.7,689.4L621.3,690.9L624.0,692.8L626.6,695.0L629.3,696.2L631.9,696.4L634.6,696.8L637.3,697.4L639.9,697.9L642.6,697.6L645.2,697.8L647.9,698.1L650.5,698.0L653.2,697.9L655.8,697.9L658.5,698.2L661.1,698.1L663.8,698.3L666.4,698.7L669.1,698.6L671.7,698.3L674.4,697.9L677.0,697.6L679.7,697.9L682.3,697.7L685.0,697.1L687.6,697.6L690.3,697.8L692.9,697.5L695.6,697.4L698.2,697.5L700.9,697.9L703.5,697.6L706.2,697.9L708.9,698.2L711.5,697.9L714.2,697.8L716.8,698.5L719.5,698.6L722.1,698.6L724.8,699.2L727.4,699.4L730.1,699.9L732.7,699.9L735.4,700.1L738.0,700.4L740.7,700.6L743.3,700.3L746.0,700.0L748.6,700.5L751.3,700.8L753.9,701.8L756.6,702.6L759.2,703.3L761.9,703.5L764.5,703.7L767.2,704.0L769.8,704.3L772.5,705.3L772.5,719.5Z" fill="#4972B9"/>
<path d="M83.0,719.5L83.0,679.4L85.7,678.4L88.3,678.0L91.0,678.1L93.6,677.6L96.3,677.0L98.9,677.2L101.6,677.2L104.2,677.6L106.9,677.9L109.5,677.9L112.2,677.9L114.8,678.1L117.5,678.2L120.1,678.7L122.8,678.6L125.4,678.6L128.1,678.7L130.7,679.0L133.4,679.1L136.0,679.4L138.7,679.4L141.3,679.3L144.0,680.0L146.6,679.9L149.3,679.2L151.9,678.8L154.6,678.1L157.3,678.1L159.9,678.3L162.6,678.3L165.2,678.7L167.9,678.5L170.5,678.9L173.2,679.3L175.8,679.3L178.5,679.4L181.1,680.0L183.8,680.5L186.4,680.1L189.1,680.1L191.7,679.9L194.4,680.4L197.0,680.6L199.7,680.3L202.3,680.2L205.0,680.6L207.6,680.8L210.3,680.4L212.9,680.5L215.6,681.4L218.2,682.5L220.9,683.0L223.6,683.4L226.2,684.2L228.9,685.2L231.5,685.4L234.2,685.6L236.8,686.3L239.5,687.0L242.1,687.7L244.8,688.0L247.4,688.3L250.1,689.0L252.7,689.2L255.4,689.4L258.0,690.1L260.7,690.5L263.3,690.7L266.0,691.0L268.6,691.3L271.3,691.4L273.9,691.3L276.6,691.5L279.2,691.8L281.9,692.0L284.5,692.1L287.2,692.4L289.9,692.7L292.5,693.0L295.2,693.2L297.8,693.7L300.5,694.7L303.1,695.1L305.8,695.9L308.4,696.8L311.1,697.0L313.7,697.7L316.4,698.0L319.0,698.4L321.7,698.5L324.3,698.2L327.0,697.6L329.6,697.6L332.3,697.7L334.9,697.4L337.6,697.8L340.2,697.8L342.9,697.5L345.5,697.6L348.2,697.8L350.8,697.6L353.5,697.8L356.1,697.8L358.8,697.8L361.5,698.0L364.1,698.1L366.8,698.3L369.4,698.3L372.1,698.3L374.7,698.4L377.4,698.5L380.0,698.9L382.7,698.7L385.3,698.3L388.0,698.2L390.6,698.6L393.3,698.9L395.9,698.9L398.6,699.2L401.2,699.0L403.9,698.6L406.5,698.8L409.2,698.7L411.8,698.6L414.5,698.8L417.1,698.9L419.8,698.8L422.4,698.7L425.1,698.7L427.8,698.5L430.4,698.2L433.1,698.4L435.7,698.2L438.4,698.2L441.0,697.9L443.7,698.1L446.3,697.8L449.0,697.4L451.6,697.5L454.3,697.7L456.9,697.6L459.6,697.3L462.2,697.0L464.9,696.8L467.5,697.0L470.2,697.0L472.8,697.1L475.5,697.3L478.1,697.8L480.8,698.3L483.4,698.3L486.1,698.4L488.7,698.7L491.4,699.3L494.0,699.6L496.7,699.7L499.4,700.3L502.0,700.5L504.7,700.8L507.3,701.2L510.0,701.8L512.6,702.2L515.3,701.9L517.9,702.5L520.6,703.0L523.2,702.8L525.9,702.5L528.5,702.2L531.2,701.9L533.8,702.1L536.5,701.9L539.1,701.7L541.8,701.7L544.4,701.4L547.1,701.1L549.7,701.2L552.4,701.1L555.0,700.7L557.7,700.6L560.3,700.7L563.0,700.5L565.6,700.3L568.3,700.3L571.0,700.0L573.6,699.7L576.3,699.5L578.9,699.7L581.6,699.1L584.2,698.8L586.9,699.0L589.5,699.2L592.2,699.2L594.8,699.0L597.5,698.6L600.1,698.8L602.8,698.2L605.4,698.3L608.1,698.7L610.7,698.8L613.4,698.8L616.0,699.7L618.7,700.6L621.3,701.3L624.0,702.5L626.6,704.0L629.3,704.8L631.9,704.9L634.6,704.9L637.3,705.1L639.9,705.4L642.6,705.5L645.2,705.9L647.9,706.1L650.5,706.1L653.2,706.2L655.8,706.2L658.5,706.4L661.1,706.4L663.8,706.5L666.4,706.8L669.1,706.8L671.7,706.4L674.4,706.2L677.0,706.2L679.7,706.5L682.3,706.4L685.0,705.9L687.6,706.1L690.3,706.1L692.9,705.8L695.6,705.5L698.2,705.3L700.9,705.4L703.5,705.4L706.2,705.4L708.9,705.3L711.5,705.2L714.2,705.2L716.8,705.5L719.5,705.5L722.1,705.3L724.8,705.5L727.4,705.7L730.1,706.1L732.7,705.9L735.4,705.9L738.0,705.7L740.7,705.6L743.3,705.2L746.0,704.9L748.6,704.8L751.3,704.9L753.9,706.2L756.6,707.2L759.2,707.8L761.9,708.0L764.5,708.2L767.2,708.5L769.8,708.6L772.5,709.3L772.5,719.5Z" fill="#EEB832"/>
<path d="M83.0,719.5L83.0,693.4L85.7,693.1L88.3,693.1L91.0,693.5L93.6,693.5L96.3,693.2L98.9,692.9L101.6,692.3L104.2,692.0L106.9,691.8L109.5,691.7L112.2,691.9L114.8,691.9L117.5,692.1L120.1,692.3L122.8,692.3L125.4,692.5L128.1,692.5L130.7,692.9L133.4,692.9L136.0,693.0L138.7,693.1L141.3,693.2L144.0,693.7L146.6,693.7L149.3,693.6L151.9,693.6L154.6,693.5L157.3,693.9L159.9,694.3L162.6,694.3L165.2,694.8L167.9,694.7L170.5,694.9L173.2,695.2L175.8,695.5L178.5,695.6L181.1,696.1L183.8,696.4L186.4,696.3L189.1,696.4L191.7,696.3L194.4,696.6L197.0,696.8L199.7,696.7L202.3,696.7L205.0,697.2L207.6,697.5L210.3,697.3L212.9,697.4L215.6,698.0L218.2,698.5L220.9,698.9L223.6,699.1L226.2,699.5L228.9,700.1L231.5,700.3L234.2,700.6L236.8,701.0L239.5,701.5L242.1,701.8L244.8,701.7L247.4,702.0L250.1,702.7L252.7,703.0L255.4,703.0L258.0,703.4L260.7,703.6L263.3,703.7L266.0,703.7L268.6,704.0L271.3,704.1L273.9,704.0L276.6,704.3L279.2,704.5L281.9,704.5L284.5,704.5L287.2,704.8L289.9,704.9L292.5,705.1L295.2,705.2L297.8,705.3L300.5,705.5L303.1,705.5L305.8,705.7L308.4,706.0L311.1,706.1L313.7,706.4L316.4,706.4L319.0,706.5L321.7,706.6L324.3,706.4L327.0,706.1L329.6,706.2L332.3,706.3L334.9,706.1L337.6,706.5L340.2,706.6L342.9,706.4L345.5,706.5L348.2,706.6L350.8,706.6L353.5,706.7L356.1,706.5L358.8,706.6L361.5,706.7L364.1,707.0L366.8,706.9L369.4,706.8L372.1,706.9L374.7,706.8L377.4,706.9L380.0,707.3L382.7,707.2L385.3,706.8L388.0,706.7L390.6,707.0L393.3,707.0L395.9,707.0L398.6,707.2L401.2,707.1L403.9,706.9L406.5,706.9L409.2,706.6L411.8,706.5L414.5,706.8L417.1,706.8L419.8,706.7L422.4,706.7L425.1,706.6L427.8,706.5L430.4,706.3L433.1,706.1L435.7,706.0L438.4,706.1L441.0,705.9L443.7,706.0L446.3,706.1L449.0,706.0L451.6,706.1L454.3,706.2L456.9,706.2L459.6,706.2L462.2,706.3L464.9,706.1L467.5,706.4L470.2,706.6L472.8,706.7L475.5,706.9L478.1,707.1L480.8,707.5L483.4,707.5L486.1,707.6L488.7,708.0L491.4,708.5L494.0,708.7L496.7,708.5L499.4,708.7L502.0,708.8L504.7,708.9L507.3,708.8L510.0,709.1L512.6,709.4L515.3,709.2L517.9,709.3L520.6,709.4L523.2,709.3L525.9,709.3L528.5,709.2L531.2,709.0L533.8,709.1L536.5,709.2L539.1,709.1L541.8,709.2L544.4,708.9L547.1,709.1L549.7,709.4L552.4,709.5L555.0,709.3L557.7,709.5L560.3,709.7L563.0,710.0L565.6,710.0L568.3,710.1L571.0,710.1L573.6,709.9L576.3,709.9L578.9,710.1L581.6,709.8L584.2,709.9L586.9,710.0L589.5,709.9L592.2,710.0L594.8,710.0L597.5,710.1L600.1,710.7L602.8,710.5L605.4,710.6L608.1,711.2L610.7,711.3L613.4,711.2L616.0,711.9L618.7,712.4L621.3,713.0L624.0,713.8L626.6,714.4L629.3,714.8L631.9,715.2L634.6,715.4L637.3,715.6L639.9,715.6L642.6,715.6L645.2,715.8L647.9,715.7L650.5,715.9L653.2,716.0L655.8,715.8L658.5,716.0L661.1,716.0L663.8,716.2L666.4,716.4L669.1,716.4L671.7,716.4L674.4,716.2L677.0,716.0L679.7,716.1L682.3,716.3L685.0,716.2L687.6,716.2L690.3,716.3L692.9,716.3L695.6,716.3L698.2,716.3L700.9,716.2L703.5,716.3L706.2,716.6L708.9,716.5L711.5,716.2L714.2,716.2L716.8,716.5L719.5,716.3L722.1,716.1L724.8,716.4L727.4,716.4L730.1,716.5L732.7,716.3L735.4,716.5L738.0,716.7L740.7,716.6L743.3,716.4L746.0,716.3L748.6,716.4L751.3,716.4L753.9,716.7L756.6,716.8L759.2,716.7L761.9,716.6L764.5,716.4L767.2,716.6L769.8,716.7L772.5,717.0L772.5,719.5Z" fill="#A0A0A0"/>
<path d="M83.0,719.5L83.0,714.7L85.7,714.5L88.3,714.3L91.0,714.2L93.6,714.0L96.3,713.9L98.9,713.9L101.6,713.6L104.2,713.6L106.9,713.6L109.5,713.5L112.2,713.4L114.8,713.4L117.5,713.4L120.1,713.3L122.8,713.2L125.4,713.2L128.1,713.3L130.7,713.2L133.4,713.0L136.0,713.2L138.7,713.2L141.3,713.0L144.0,713.2L146.6,713.1L149.3,712.8L151.9,712.7L154.6,712.5L157.3,712.6L159.9,712.6L162.6,712.4L165.2,712.5L167.9,712.3L170.5,712.3L173.2,712.1L175.8,712.0L178.5,712.0L181.1,712.1L183.8,712.3L186.4,712.2L189.1,712.3L191.7,712.3L194.4,712.4L197.0,712.5L199.7,712.4L202.3,712.4L205.0,712.7L207.6,713.1L210.3,713.1L212.9,713.0L215.6,713.4L218.2,713.6L220.9,713.7L223.6,713.9L226.2,714.0L228.9,714.2L231.5,714.3L234.2,714.5L236.8,714.6L239.5,714.7L242.1,714.7L244.8,714.5L247.4,714.6L250.1,714.9L252.7,714.8L255.4,714.7L258.0,714.7L260.7,714.7L263.3,714.8L266.0,714.8L268.6,715.0L271.3,715.1L273.9,715.1L276.6,715.3L279.2,715.5L281.9,715.4L284.5,715.4L287.2,715.5L289.9,715.6L292.5,715.4L295.2,715.6L297.8,715.9L300.5,715.9L303.1,715.8L305.8,715.9L308.4,715.9L311.1,715.9L313.7,716.1L316.4,716.2L319.0,716.2L321.7,716.1L324.3,716.1L327.0,716.0L329.6,716.0L332.3,715.9L334.9,716.0L337.6,716.2L340.2,716.2L342.9,716.0L345.5,715.9L348.2,715.9L350.8,716.0L353.5,716.1L356.1,715.9L358.8,716.0L361.5,716.0L364.1,716.1L366.8,716.2L369.4,716.2L372.1,716.1L374.7,716.0L377.4,716.1L380.0,716.2L382.7,716.2L385.3,716.0L388.0,716.1L390.6,716.1L393.3,716.1L395.9,716.0L398.6,716.3L401.2,716.2L403.9,716.0L406.5,716.2L409.2,716.2L411.8,716.2L414.5,716.2L417.1,716.3L419.8,716.3L422.4,716.3L425.1,716.3L427.8,716.2L430.4,716.1L433.1,716.2L435.7,716.2L438.4,716.1L441.0,716.0L443.7,716.1L446.3,716.1L449.0,716.0L451.6,716.2L454.3,716.2L456.9,716.3L459.6,716.3L462.2,716.2L464.9,716.1L467.5,716.2L470.2,716.3L472.8,716.2L475.5,716.3L478.1,716.2L480.8,716.2L483.4,716.2L486.1,716.2L488.7,716.4L491.4,716.5L494.0,716.6L496.7,716.3L499.4,716.4L502.0,716.5L504.7,716.6L507.3,716.4L510.0,716.4L512.6,716.6L515.3,716.4L517.9,716.4L520.6,716.6L523.2,716.5L525.9,716.5L528.5,716.4L531.2,716.4L533.8,716.4L536.5,716.5L539.1,716.6L541.8,716.6L544.4,716.5L547.1,716.5L549.7,716.7L552.4,716.7L555.0,716.5L557.7,716.6L560.3,716.6L563.0,716.7L565.6,716.7L568.3,716.8L571.0,716.8L573.6,716.5L576.3,716.5L578.9,716.7L581.6,716.8L584.2,716.8L586.9,716.8L589.5,716.7L592.2,716.8L594.8,716.8L597.5,716.6L600.1,716.9L602.8,716.8L605.4,716.8L608.1,717.0L610.7,716.9L613.4,716.7L616.0,716.9L618.7,716.8L621.3,716.7L624.0,716.8L626.6,717.0L629.3,717.0L631.9,717.0L634.6,717.0L637.3,716.9L639.9,716.9L642.6,716.9L645.2,717.0L647.9,717.0L650.5,717.0L653.2,717.0L655.8,716.9L658.5,717.0L661.1,717.0L663.8,717.1L666.4,717.1L669.1,717.2L671.7,717.2L674.4,717.0L677.0,717.0L679.7,717.0L682.3,717.2L685.0,717.1L687.6,717.1L690.3,717.2L692.9,717.2L695.6,717.1L698.2,717.2L700.9,717.2L703.5,717.2L706.2,717.3L708.9,717.4L711.5,717.2L714.2,717.1L716.8,717.2L719.5,717.2L722.1,717.1L724.8,717.2L727.4,717.3L730.1,717.3L732.7,717.2L735.4,717.3L738.0,717.3L740.7,717.3L743.3,717.2L746.0,717.2L748.6,717.3L751.3,717.3L753.9,717.4L756.6,717.4L759.2,717.4L761.9,717.4L764.5,717.3L767.2,717.3L769.8,717.4L772.5,717.5L772.5,719.5Z" fill="#E17D37"/>
<rect x="107" y="717.2" width="407" height="1.8" fill="#5B9BD5"/>
<rect x="514" y="717.9" width="258.5" height="1.6" fill="#F4E3D6"/>
</g>
<rect x="82" y="719" width="691.5" height="1.6" fill="#D0D0D0"/>
<rect x="82.25" y="719" width="1.5" height="9" fill="#CFCFCF"/>
<text class="ax" transform="translate(91.0,754.5) rotate(-45)" text-anchor="end" textLength="106" lengthAdjust="spacingAndGlyphs">2/4/2011</text>
<rect x="215.50" y="719" width="1.5" height="9" fill="#CFCFCF"/>
<text class="ax" transform="translate(224.2,754.5) rotate(-45)" text-anchor="end" textLength="106" lengthAdjust="spacingAndGlyphs">2/4/2012</text>
<rect x="352.00" y="719" width="1.5" height="9" fill="#CFCFCF"/>
<text class="ax" transform="translate(360.8,754.5) rotate(-45)" text-anchor="end" textLength="106" lengthAdjust="spacingAndGlyphs">2/4/2013</text>
<rect x="485.75" y="719" width="1.5" height="9" fill="#CFCFCF"/>
<text class="ax" transform="translate(494.5,754.5) rotate(-45)" text-anchor="end" textLength="106" lengthAdjust="spacingAndGlyphs">2/4/2014</text>
<rect x="621.75" y="719" width="1.5" height="9" fill="#CFCFCF"/>
<text class="ax" transform="translate(630.5,754.5) rotate(-45)" text-anchor="end" textLength="106" lengthAdjust="spacingAndGlyphs">2/4/2015</text>
<rect x="755.50" y="719" width="1.5" height="9" fill="#CFCFCF"/>
<text class="ax" transform="translate(764.2,754.5) rotate(-45)" text-anchor="end" textLength="106" lengthAdjust="spacingAndGlyphs">2/4/2016</text>
<rect x="843.5" y="125" width="14" height="14" fill="#A9ABAC"/>
<text class="ax" x="864.7" y="139.0" textLength="75.7" lengthAdjust="spacingAndGlyphs">Others</text>
<rect x="843.5" y="176" width="14" height="14" fill="#DE905B"/>
<text class="ax" x="864.7" y="190.0" textLength="98.4" lengthAdjust="spacingAndGlyphs">Williston</text>
<rect x="843.5" y="227" width="14" height="14" fill="#70AADE"/>
<text class="ax" x="864.7" y="241.0" textLength="57.7" lengthAdjust="spacingAndGlyphs">Utica</text>
<rect x="843.5" y="278" width="14" height="14" fill="#406A30"/>
<text class="ax" x="864.7" y="292.0" textLength="93.2" lengthAdjust="spacingAndGlyphs">Permian</text>
<rect x="843.5" y="329" width="14" height="14" fill="#26467C"/>
<text class="ax" x="864.7" y="343.0" textLength="148.8" lengthAdjust="spacingAndGlyphs">Mississippian</text>
<rect x="843.5" y="380" width="14" height="14" fill="#967124"/>
<text class="ax" x="864.7" y="394.0" textLength="109.4" lengthAdjust="spacingAndGlyphs">Marcellus</text>
<rect x="843.5" y="431" width="14" height="14" fill="#626262"/>
<text class="ax" x="864.7" y="445.0" textLength="126.2" lengthAdjust="spacingAndGlyphs">Haynesville</text>
<rect x="843.5" y="482" width="14" height="14" fill="#A25024"/>
<text class="ax" x="864.7" y="496.0" textLength="151.5" lengthAdjust="spacingAndGlyphs">Granite Wash</text>
<rect x="843.5" y="533" width="14" height="14" fill="#245F98"/>
<text class="ax" x="864.7" y="547.0" textLength="126.4" lengthAdjust="spacingAndGlyphs">Fayetteville</text>
<rect x="843.5" y="584" width="14" height="14" fill="#72B557"/>
<text class="ax" x="864.7" y="598.0" textLength="116.1" lengthAdjust="spacingAndGlyphs">Eagle Ford</text>
<rect x="843.5" y="635" width="14" height="14" fill="#4972B9"/>
<text class="ax" x="864.7" y="649.0" textLength="131.7" lengthAdjust="spacingAndGlyphs">DJ-Niobrara</text>
<rect x="843.5" y="686" width="14" height="14" fill="#EEB832"/>
<text class="ax" x="864.7" y="700.0" textLength="175.0" lengthAdjust="spacingAndGlyphs">Cana Woodford</text>
<rect x="843.5" y="737" width="14" height="14" fill="#A0A0A0"/>
<text class="ax" x="864.7" y="751.0" textLength="83.4" lengthAdjust="spacingAndGlyphs">Barnett</text>
<rect x="843.5" y="788" width="14" height="14" fill="#E17D37"/>
<text class="ax" x="864.7" y="802.0" textLength="206.4" lengthAdjust="spacingAndGlyphs">Arkoma Woodford</text>
<text class="src" y="856.3"><tspan x="660.29" textLength="89.54" lengthAdjust="spacingAndGlyphs">Source:</tspan> <tspan x="758.95" textLength="76.00" lengthAdjust="spacingAndGlyphs">Baker,</tspan> <tspan x="844.07" textLength="86.13" lengthAdjust="spacingAndGlyphs">Hughes</tspan> <tspan x="941.27" textLength="154.51" lengthAdjust="spacingAndGlyphs">(18/3/2016)</tspan></text>
</svg></body></html>
